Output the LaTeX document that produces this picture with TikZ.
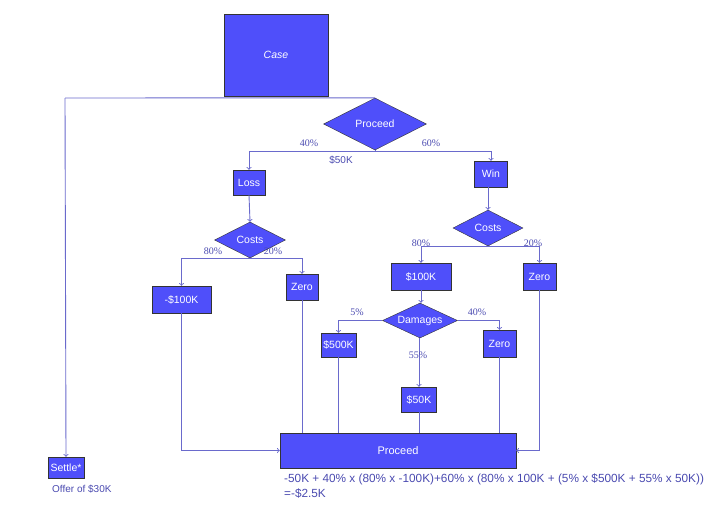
\documentclass[tikz,border=0pt]{standalone}
\usepackage{fontspec}
\setmainfont{Liberation Sans}
\newfontfamily\serf{Liberation Serif}
\usetikzlibrary{shapes.geometric}
\definecolor{fillb}{HTML}{4F4FFA}
\definecolor{lineb}{HTML}{6A6ACC}
\definecolor{txtb}{HTML}{4A4AB0}
\begin{document}
\begin{tikzpicture}[x=1pt,y=-1pt,
  box/.style={draw=black!80,fill=fillb,text=white,inner sep=0pt,font=\fontsize{10.5}{12}\selectfont},
  ln/.style={draw=lineb,line width=0.9pt},
  ar/.style={ln,-to},
  pct/.style={text=txtb,font=\serf\fontsize{10}{12}\selectfont,inner sep=0pt},
  lab/.style={text=txtb,font=\fontsize{10}{12}\selectfont,inner sep=0pt}]
\useasboundingbox (0,0) rectangle (727,506);
\node[box,minimum width=104pt,minimum height=82pt,font=\itshape\fontsize{10.5}{12}\selectfont] (case) at (276,55) {Case};
\node[box,diamond,aspect=2,minimum width=103pt,minimum height=52pt] (p1) at (375,124) {Proceed};
\node[box,minimum width=32pt,minimum height=25pt] (loss) at (249,182.5) {Loss};
\node[box,minimum width=33pt,minimum height=26pt] (win) at (491,174) {Win};
\node[box,diamond,aspect=2,minimum width=71pt,minimum height=36pt] (c1) at (250,240) {Costs};
\node[box,diamond,aspect=2,minimum width=70pt,minimum height=36pt] (c2) at (488,228) {Costs};
\node[box,minimum width=59pt,minimum height=27pt] (m100) at (181.5,299.5) {-\$100K};
\node[box,minimum width=32pt,minimum height=26pt] (z1) at (302,287) {Zero};
\node[box,minimum width=60pt,minimum height=27pt] (p100) at (421,276.5) {\$100K};
\node[box,minimum width=33pt,minimum height=27pt] (z2) at (539.5,276.5) {Zero};
\node[box,diamond,aspect=2,minimum width=75pt,minimum height=35pt] (dam) at (420,320.5) {Damages};
\node[box,minimum width=35pt,minimum height=24pt] (p500) at (338.5,345) {\$500K};
\node[box,minimum width=33pt,minimum height=27pt] (z3) at (499.5,343.5) {Zero};
\node[box,minimum width=35pt,minimum height=25pt] (p50) at (419,399.5) {\$50K};
\node[box,minimum width=236pt,minimum height=35pt,font=\fontsize{11}{13}\selectfont] (fin) at (398,450.5) {Proceed};
\node[box,minimum width=36pt,minimum height=21pt] (set) at (66,467.5) {Settle*};
% connectors
\coordinate (tl) at (65,98);
\draw[ln] (p1.north) -- (tl);
\draw[ar] (tl) -- (set.north);
\draw[ln] (p1.south) -- ++(0,1) coordinate (b1);
\draw[ar] (b1) -| (loss.north);
\draw[ar] (b1) -| (win.north);
\draw[ar] (loss.south) -- (c1.north);
\draw[ar] (c2.north |- win.south) -- (c2.north);
\draw[ar] (c1.south) -| (m100.north);
\draw[ar] (c1.south) -| (z1.north);
\draw[ar] (c2.south) -| (p100.north);
\draw[ar] (c2.south) -| (z2.north);
\draw[ar] (p100.south) -- (p100.south |- dam.north);
\draw[ar] (dam.west) -| (p500.north);
\draw[ar] (dam.east) -| (z3.north);
\draw[ar] (p50.north |- dam.south) -- (p50.north);
\draw[ar] (m100.south) |- (fin.west);
\draw[ar] (z2.south) |- (fin.east);
\draw[ln] (z1.south) -- (z1.south |- fin.north);
\draw[ln] (p500.south) -- (p500.south |- fin.north);
\draw[ln] (p50.south) -- (p50.south |- fin.north);
\draw[ln] (z3.south) -- (z3.south |- fin.north);
% labels
\node[pct] (l1) at (309,143) {40\%};
\node[pct] (l2) at (431,143) {60\%};
\node[lab] (l3) at (341,160) {\$50K};
\node[pct] (l4) at (213,251) {80\%};
\node[pct] (l5) at (273,251) {20\%};
\node[pct] (l6) at (421,243) {80\%};
\node[pct] (l7) at (533,243) {20\%};
\node[pct] (l8) at (357,312) {5\%};
\node[pct] (l9) at (477,312) {40\%};
\node[pct] (l10) at (418,355) {55\%};
\node[lab,anchor=west] (l11) at (52,489) {Offer of \$30K};
\node[lab,anchor=west,align=left,font=\fontsize{11.8}{14.5}\selectfont] (l12) at (284,486) {-50K + 40\% x (80\% x -100K)+60\% x (80\% x 100K + (5\% x \$500K + 55\% x 50K))\\=-\$2.5K};
\end{tikzpicture}
\end{document}
